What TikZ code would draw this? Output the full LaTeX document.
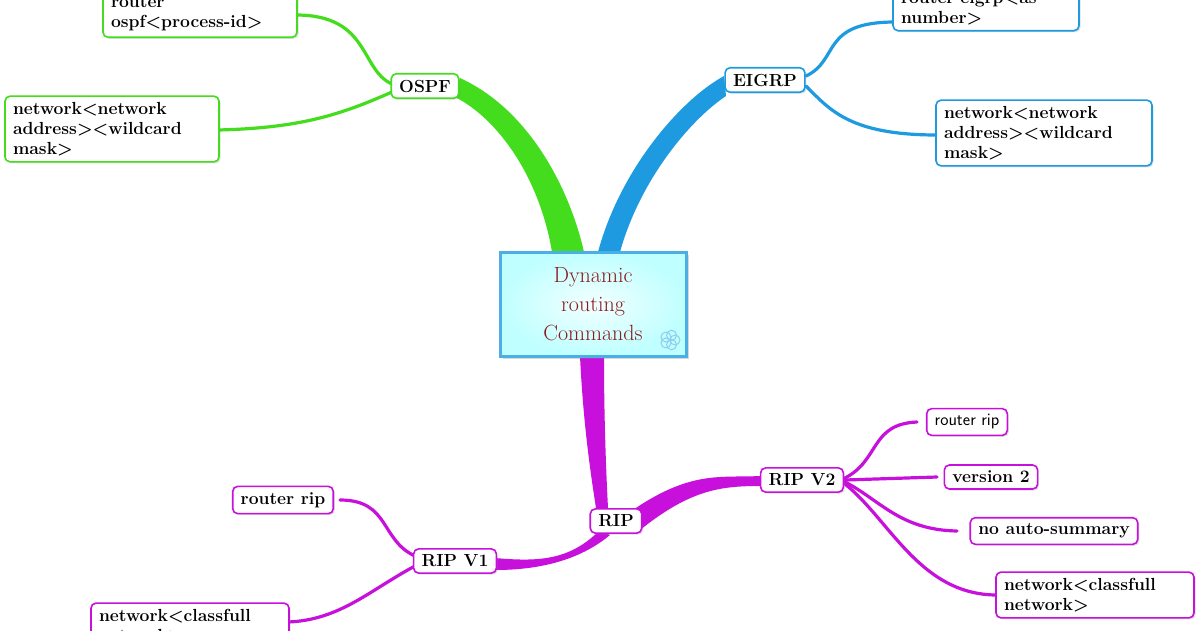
\documentclass[tikz,border=0pt]{standalone}
\usetikzlibrary{shadows}
\definecolor{mgreen}{HTML}{44DD1E}
\definecolor{mblue}{HTML}{1E9BE0}
\definecolor{mmag}{HTML}{C810DC}
\definecolor{dred}{HTML}{8B1A1A}
\begin{document}
\begin{tikzpicture}[x=1pt,y=-1pt,
  leaf/.style={draw=#1,line width=1.6pt,rounded corners=5pt,fill=white,align=left,
    font=\fontsize{17.5}{20}\selectfont\bfseries,inner xsep=8pt,inner ysep=6pt,
    drop shadow={opacity=0.25,shadow xshift=1.5pt,shadow yshift=-1.5pt}},
  br/.style={draw=#1,line width=3.2pt,line cap=round}]
\useasboundingbox (0,0) rectangle (1200,630);
\clip (0,0) rectangle (1200,630);
\fill[white] (0,0) rectangle (1200,630);
% main branches
\fill[mgreen] (552,252) .. controls (540,180) and (500,120) .. (455,97) -- (460,78) .. controls (530,110) and (570,190) .. (584,252) -- cycle;
\fill[mblue] (598,252) .. controls (620,170) and (680,100) .. (724,76) -- (726,96) .. controls (690,120) and (640,180) .. (620,252) -- cycle;
\fill[mmag] (580,356) .. controls (583,420) and (590,470) .. (596,508) -- (608,508) .. controls (605,450) and (604,400) .. (604,356) -- cycle;
\fill[mmag] (630,512) .. controls (690,470) and (720,478) .. (760,476) -- (760,486) .. controls (720,486) and (690,490) .. (640,530) -- cycle;
\fill[mmag] (600,530) .. controls (570,560) and (540,562) .. (495,558) -- (495,570) .. controls (540,570) and (580,560) .. (610,535) -- cycle;
% child branches
\draw[br=mgreen] (392,84) .. controls (360,70) and (370,15) .. (296,15);
\draw[br=mgreen] (392,92) .. controls (340,115) and (300,128) .. (218,130);
\draw[br=mblue] (806,76) .. controls (840,60) and (820,22) .. (895,22);
\draw[br=mblue] (806,86) .. controls (830,110) and (850,135) .. (937,135);
\draw[br=mmag] (845,478) .. controls (880,460) and (870,424) .. (917,422);
\draw[br=mmag] (845,480) -- (937,477);
\draw[br=mmag] (845,482) .. controls (880,500) and (900,530) .. (957,531);
\draw[br=mmag] (845,484) .. controls (890,520) and (920,595) .. (997,595);
\draw[br=mmag] (415,556) .. controls (380,540) and (390,500) .. (340,500);
\draw[br=mmag] (415,566) .. controls (370,590) and (340,620) .. (288,622);
% central
\node[draw=mblue!80,line width=3pt,inner color=cyan!5,outer color=cyan!25,minimum width=186pt,minimum height=104pt,
  align=center,text=dred,font=\fontsize{22}{29}\selectfont,
  drop shadow={opacity=0.3,shadow xshift=3pt,shadow yshift=-3pt}] (c) at (593,304) {Dynamic\\routing\\Commands};
\foreach \a in {0,72,...,288} \draw[mblue!50,line width=1pt] (670,340)++(\a:5) circle (5);
% nodes
\node[leaf=mgreen] (ospf) at (425,86) {OSPF};
\node[leaf=mgreen,text width=178pt] (ro) at (200,14) {router\\ospf<process-id>};
\node[leaf=mgreen,text width=198pt] (no) at (112,129) {network<network\\address><wildcard\\mask>};
\node[leaf=mblue] (eig) at (765,80) {EIGRP};
\node[leaf=mblue,text width=170pt] (re) at (986,8) {router eigrp<as\\number>};
\node[leaf=mblue,text width=200pt] (ne) at (1044,133) {network<network\\address><wildcard\\mask>};
\node[leaf=mmag] (rip) at (616,521) {RIP};
\node[leaf=mmag] (r2) at (802,480) {RIP V2};
\node[leaf=mmag,font=\fontsize{17.5}{20}\selectfont\sffamily] (r2a) at (967,422) {router rip};
\node[leaf=mmag] (r2b) at (991,477) {version 2};
\node[leaf=mmag] (r2c) at (1054,531) {no auto-summary};
\node[leaf=mmag,text width=182pt] (r2d) at (1095,595) {network<classfull\\network>};
\node[leaf=mmag] (r1) at (455,561) {RIP V1};
\node[leaf=mmag] (r1a) at (283,500) {router rip};
\node[leaf=mmag,text width=182pt] (r1b) at (190,626) {network<classfull\\network>};
\end{tikzpicture}
\end{document}
